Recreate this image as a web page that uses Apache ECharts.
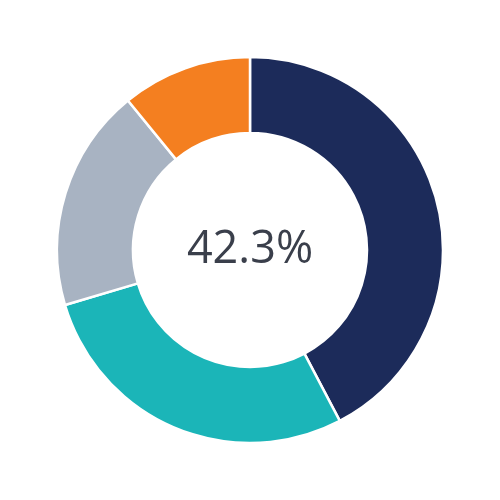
<!DOCTYPE html>
<html><head><meta charset="utf-8">
<script src="https://cdn.jsdelivr.net/npm/echarts@6/dist/echarts.min.js"></script>
<style>html,body{margin:0;padding:0;background:#fff}#c{width:500px;height:500px}</style>
</head><body><div id="c"></div>
<script>
const categories = ['A', 'B', 'C', 'D'];
const values = [42.3, 28.1, 18.7, 10.9];
const colors = ['#1c2b5a', '#1bb5b8', '#a8b3c2', '#f47f20'];
const centerLabel = '42.3%';
const chart = echarts.init(document.getElementById('c'));
chart.setOption({
  animation: false,
  title: {
    text: centerLabel, left: 'center', top: 'middle',
    textStyle: { fontFamily: 'Open Sans', fontWeight: 400, fontSize: 45, color: '#3a3f4b' }
  },
  series: [{
    type: 'pie', radius: [117, 193], center: [250, 250], startAngle: 90, clockwise: true,
    label: { show: false }, labelLine: { show: false }, emphasis: { disabled: true },
    itemStyle: { borderColor: '#fff', borderWidth: 2.5 },
    data: categories.map((c, i) => ({ name: c, value: values[i], itemStyle: { color: colors[i] } }))
  }]
});
</script></body></html>
